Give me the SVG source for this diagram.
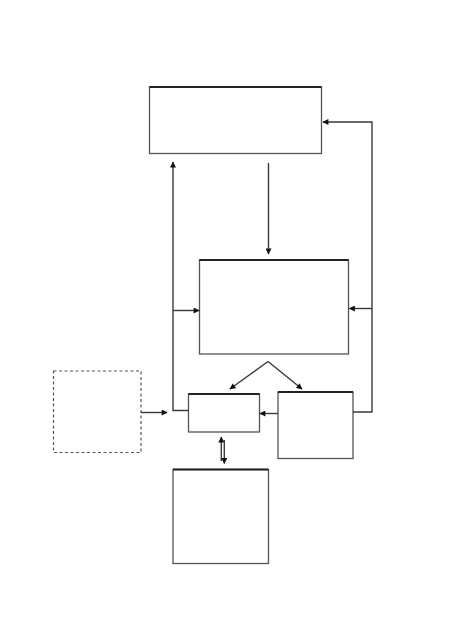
<svg xmlns="http://www.w3.org/2000/svg" width="474" height="632" viewBox="0 0 474 632">
<style>
.box{fill:#fff;stroke:#555;stroke-width:1.3}
.top{stroke:#222;stroke-width:2}
.dash{fill:#fff;stroke:#555;stroke-width:1.2;stroke-dasharray:3,2.5}
.c{fill:none;stroke:#3a3a3a;stroke-width:1.4}
</style>
<defs>
<marker id="a" viewBox="0 0 10 10" refX="9" refY="5" markerWidth="7" markerHeight="6" orient="auto" markerUnits="userSpaceOnUse">
<path d="M0,0 L10,5 L0,10 z" fill="#111"/>
</marker>
</defs>
<rect width="474" height="632" fill="#fff"/>
<g id="n1"><rect class="box" x="149.5" y="87" width="172" height="66.5"/><line class="top" x1="149.5" y1="87" x2="321.5" y2="87"/></g>
<g id="n2"><rect class="box" x="199.5" y="260" width="149" height="94"/><line class="top" x1="199.5" y1="260" x2="348.5" y2="260"/></g>
<g id="n3"><rect class="dash" x="53.5" y="371" width="87.5" height="81.5"/></g>
<g id="n4"><rect class="box" x="188.5" y="394" width="71" height="38"/><line class="top" x1="188.5" y1="394" x2="259.5" y2="394"/></g>
<g id="n5"><rect class="box" x="278" y="392" width="75" height="66.5"/><line class="top" x1="278" y1="392" x2="353" y2="392"/></g>
<g id="n6"><rect class="box" x="173" y="469.5" width="95.5" height="94"/><line class="top" x1="173" y1="469.5" x2="268.5" y2="469.5"/></g>
<g id="connectors">
<path class="c" d="M353,412 H372 V122 H323" marker-end="url(#a)"/>
<path class="c" d="M372,308.5 H349.5" marker-end="url(#a)"/>
<path class="c" d="M188.5,410.5 H173 V162" marker-end="url(#a)"/>
<path class="c" d="M173,310.5 H199" marker-end="url(#a)"/>
<path class="c" d="M268.5,163 V254" marker-end="url(#a)"/>
<path class="c" d="M268,361.5 L230,389" marker-end="url(#a)"/>
<path class="c" d="M268,361.5 L302,389" marker-end="url(#a)"/>
<path class="c" d="M278,413.5 H260" marker-end="url(#a)"/>
<path class="c" d="M141,412.5 H167" marker-end="url(#a)"/>
<path class="c" d="M221.3,461 V437" marker-end="url(#a)"/>
<path class="c" d="M224.3,440 V463.5" marker-end="url(#a)"/>
</g>
</svg>
